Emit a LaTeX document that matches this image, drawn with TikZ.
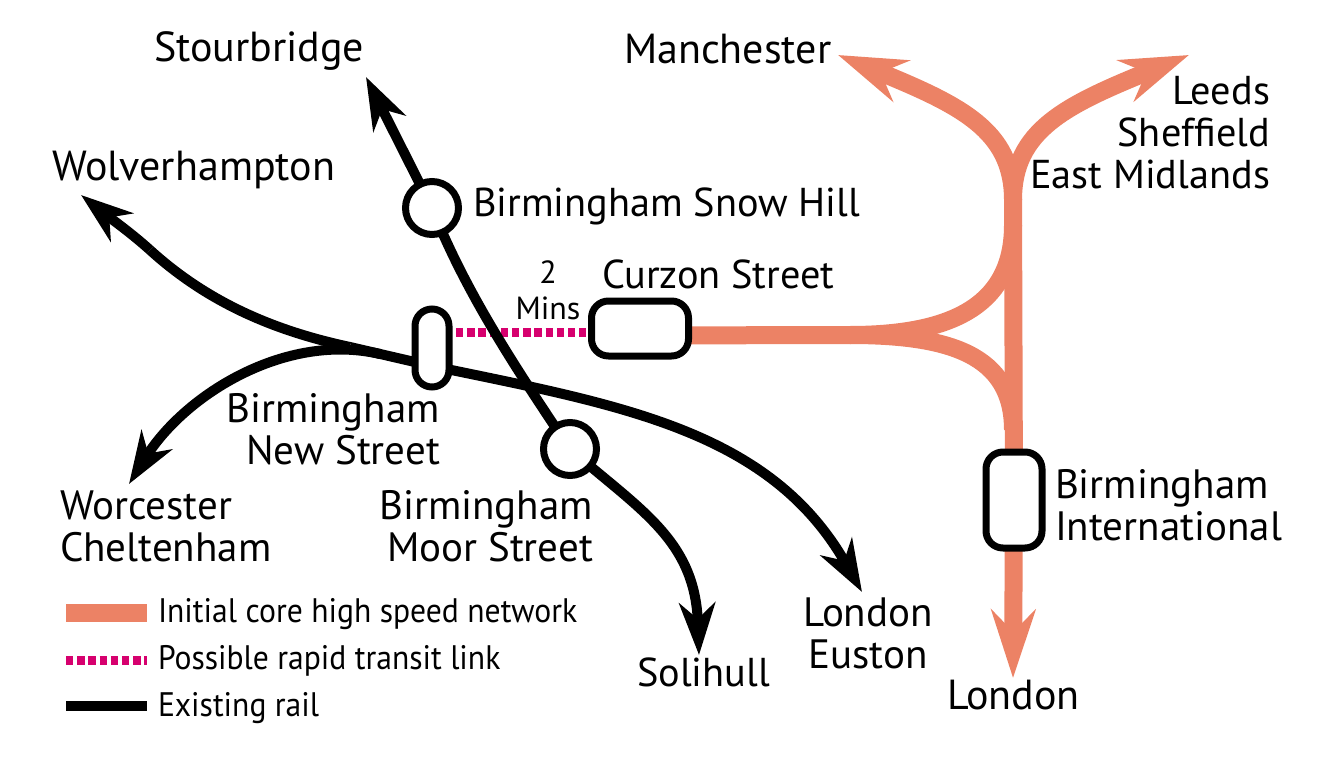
\documentclass[tikz,border=0pt]{standalone}
\usepackage{fontspec}
\setmainfont{PT Sans}
\newfontfamily\legfont[FakeStretch=0.93]{PT Sans}
\usetikzlibrary{arrows.meta,backgrounds}
\definecolor{hs}{HTML}{EC8265}
\definecolor{link}{HTML}{D6006E}
\tikzset{
 every node/.style={inner sep=0pt,outer sep=0pt},
 lab/.style={text=black,font=\fontsize{41}{42}\selectfont,align=left},
 labw/.style={text=black,font=\fontsize{42}{42}\selectfont,align=left},
 labn/.style={text=black,font=\fontsize{40.3}{42}\selectfont,align=left},
 labr/.style={lab,align=right},
 labc/.style={lab,align=center},
 small/.style={text=black,font=\fontsize{32}{36}\selectfont,align=center},
 legend/.style={text=black,font=\legfont\fontsize{34}{36}\selectfont,anchor=west},
 stn/.style={draw=black,line width=7pt,fill=white,rounded corners=17pt},
 stc/.style={draw=black,line width=7pt,fill=white,circle,minimum size=53pt},
 hsl/.style={draw=hs,line width=18pt},
 hstip/.style={hsl,-{Stealth[length=68pt,width=44pt,inset=22pt]}},
 rail/.style={draw=black,line width=10pt},
 railtip/.style={rail,-{Stealth[length=52pt,width=36pt,inset=16pt]}},
 tlink/.style={draw=link,line width=9pt,dash pattern=on 7.4pt off 3.8pt},
}
\begin{document}
\begin{tikzpicture}[x=1pt,y=-1pt]
\useasboundingbox (0,0) rectangle (1338,765);
% stations
\node[stc] (snow) at (432,208) {};
\node[stc] (moor) at (570,449) {};
\node[stn,minimum width=34pt,minimum height=78pt] (newst) at (432,348) {};
\node[stn,minimum width=97pt,minimum height=55pt] (curzon) at (640,328.5) {};
\node[stn,minimum width=56pt,minimum height=96pt] (intl) at (1014,500) {};
% free ends
\coordinate (stour) at (366,77);
\coordinate (wolv) at (81,195);
\coordinate (worc) at (129,484);
\coordinate (sol) at (699,655);
\coordinate (eus) at (862,592);
\coordinate (jn) at (350,347);
\coordinate (wj) at (380,354);
\coordinate (manc) at (838,55);
\coordinate (leeds) at (1189,55);
\coordinate (lon) at (1013,678);
\coordinate (fork) at (1013,200);
\coordinate (upj) at (1013,225);
\coordinate (loj) at (1013,430);
\coordinate (cj) at (850,335);
\coordinate (lna) at (456,332);
\coordinate (lnb) at (586,332);
\coordinate (lw) at (150,250);
\coordinate (ns) at (432,366);
\coordinate (la1) at (66,613);\coordinate (lb1) at (147,613);
\coordinate (la2) at (66,660);\coordinate (lb2) at (147,660);
\coordinate (la3) at (66,706);\coordinate (lb3) at (147,706);
\begin{scope}[on background layer]
\path[hstip] (fork) .. controls (1013,130) and (960,105) .. (manc);
\path[hstip] (fork) .. controls (1013,130) and (1066,105) .. (leeds);
\path[hsl] (intl.center) -- (fork);
\path[hstip] (intl.center) -- (lon);
\path[hsl] (curzon.center) ++(0,7) -- (cj);
\path[hsl] (cj) .. controls (960,335) and (1013,300) .. (upj);
\path[hsl] (cj) .. controls (950,335) and (1013,355) .. (loj);
\path[tlink] (lna) -- (lnb);
\path[railtip] (snow.center) -- (stour);
\path[rail] (snow.center) .. controls (465,290) and (510,360) .. (moor.center);
\path[railtip] (moor.center) .. controls (640,510) and (695,540) .. (sol);
\path[rail] (jn) .. controls (270,330) and (205,300) .. (lw);
\path[railtip] (lw) .. controls (130,232) and (110,218) .. (wolv);
\path[rail] (jn) -- (ns);
\path[railtip] (ns) .. controls (620,405) and (770,430) .. (eus);
\path[railtip] (wj) .. controls (285,332) and (185,395) .. (worc);
\end{scope}
% labels
\node[labw,anchor=west] (t1) at (154,51) {Stourbridge};
\node[labw,anchor=west] (t2) at (624,49) {Manchester};
\node[labn,align=right,anchor=east] (t3) at (1270,133) {Leeds\\Sheffield\\East Midlands};
\node[labw,anchor=west] (t4) at (52,170) {Wolverhampton};
\node[labn,anchor=west] (t5) at (473,206) {Birmingham Snow Hill};
\node[small] (t6) at (548,290) {2\\Mins};
\node[labn,anchor=west] (t7) at (602,274) {Curzon Street};
\node[labr,anchor=east] (t8) at (440,429) {Birmingham\\New Street};
\node[lab,anchor=west] (t9) at (60,526) {Worcester\\Cheltenham};
\node[labr,anchor=east] (t10) at (593,526) {Birmingham\\Moor Street};
\node[lab,anchor=west] (t11) at (1055,505) {Birmingham\\International};
\node[labc] (t12) at (868,633) {London\\Euston};
\node[labn,anchor=west] (t13) at (637,672) {Solihull};
\node[labw,anchor=west] (t14) at (947,695) {London};
% legend
\path[hsl] (la1) -- (lb1);
\path[tlink] (la2) -- (lb2);
\path[rail] (la3) -- (lb3);
\node[legend] (l1) at (158,614) {Initial core high speed network};
\node[legend] (l2) at (158,661) {Possible rapid transit link};
\node[legend] (l3) at (158,708) {Existing rail};
\end{tikzpicture}
\end{document}
